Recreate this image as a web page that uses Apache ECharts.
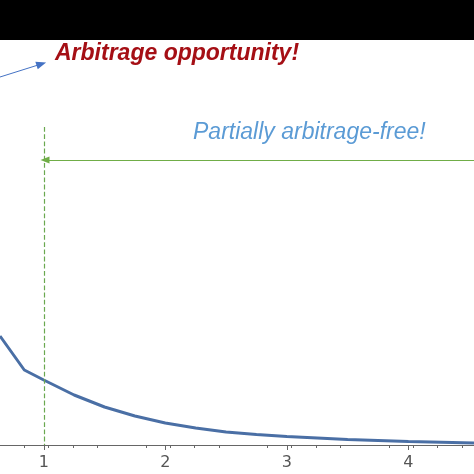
<!DOCTYPE html><html><head><meta charset="utf-8"><script src="https://cdn.jsdelivr.net/npm/echarts@6/dist/echarts.min.js"></script></head><body style="margin:0"><div id="c" style="width:474px;height:474px"></div><script>
const xs=[0.64,0.84,1,1.25,1.5,1.75,2,2.25,2.5,2.75,3,3.5,4,4.54];
const ys=[109,75,65,50,38,29,22,17,13,10.5,8.5,5.5,3.5,2];
const xTicks=[1,2,3,4];
const ch=echarts.init(document.getElementById('c'));
ch.setOption({animation:false,
grid:{left:0,right:0,top:40,bottom:29},
xAxis:{type:'value',min:0.64,max:4.54,interval:1,axisLine:{lineStyle:{color:'#666'}},
 axisTick:{length:5,lineStyle:{color:'#666'},customValues:xTicks},minorTick:{show:true,splitNumber:5,length:3,lineStyle:{color:'#666'}},
 splitLine:{show:false},axisLabel:{customValues:xTicks,fontSize:16,color:'#555',margin:10,fontFamily:'DejaVu Sans'}},
yAxis:{type:'value',min:0,max:405,show:false},
series:[{type:'line',data:xs.map((x,i)=>[x,ys[i]]),showSymbol:false,smooth:false,lineStyle:{color:'#4a6fa5',width:3},
 markLine:{silent:true,symbol:['none','none'],label:{show:false},data:[
  [{coord:[1,318],lineStyle:{color:'#6aa84f',type:'dashed',width:1.2}},{coord:[1,0]}],
  [{coord:[4.54,285],symbol:'none',lineStyle:{color:'#70ad47',type:'solid',width:1}},{coord:[1.01,285],symbol:'triangle',symbolSize:[7,9]}],
  [{coord:[0.64,368],symbol:'none',lineStyle:{color:'#4472c4',type:'solid',width:1}},{coord:[0.98,381],symbol:'triangle',symbolSize:[8,10]}]
 ]}}],
graphic:[{type:'rect',shape:{x:0,y:0,width:474,height:40},style:{fill:'#000'}},
 {type:'text',left:55,top:42,style:{text:'Arbitrage opportunity!',fill:'#a50f15',font:'italic bold 23px "Liberation Sans"'}},
 {type:'text',left:193,top:121,style:{text:'Partially arbitrage-free!',fill:'#5b9bd5',font:'italic 23px "Liberation Sans"'}}]
});
</script></body></html>
